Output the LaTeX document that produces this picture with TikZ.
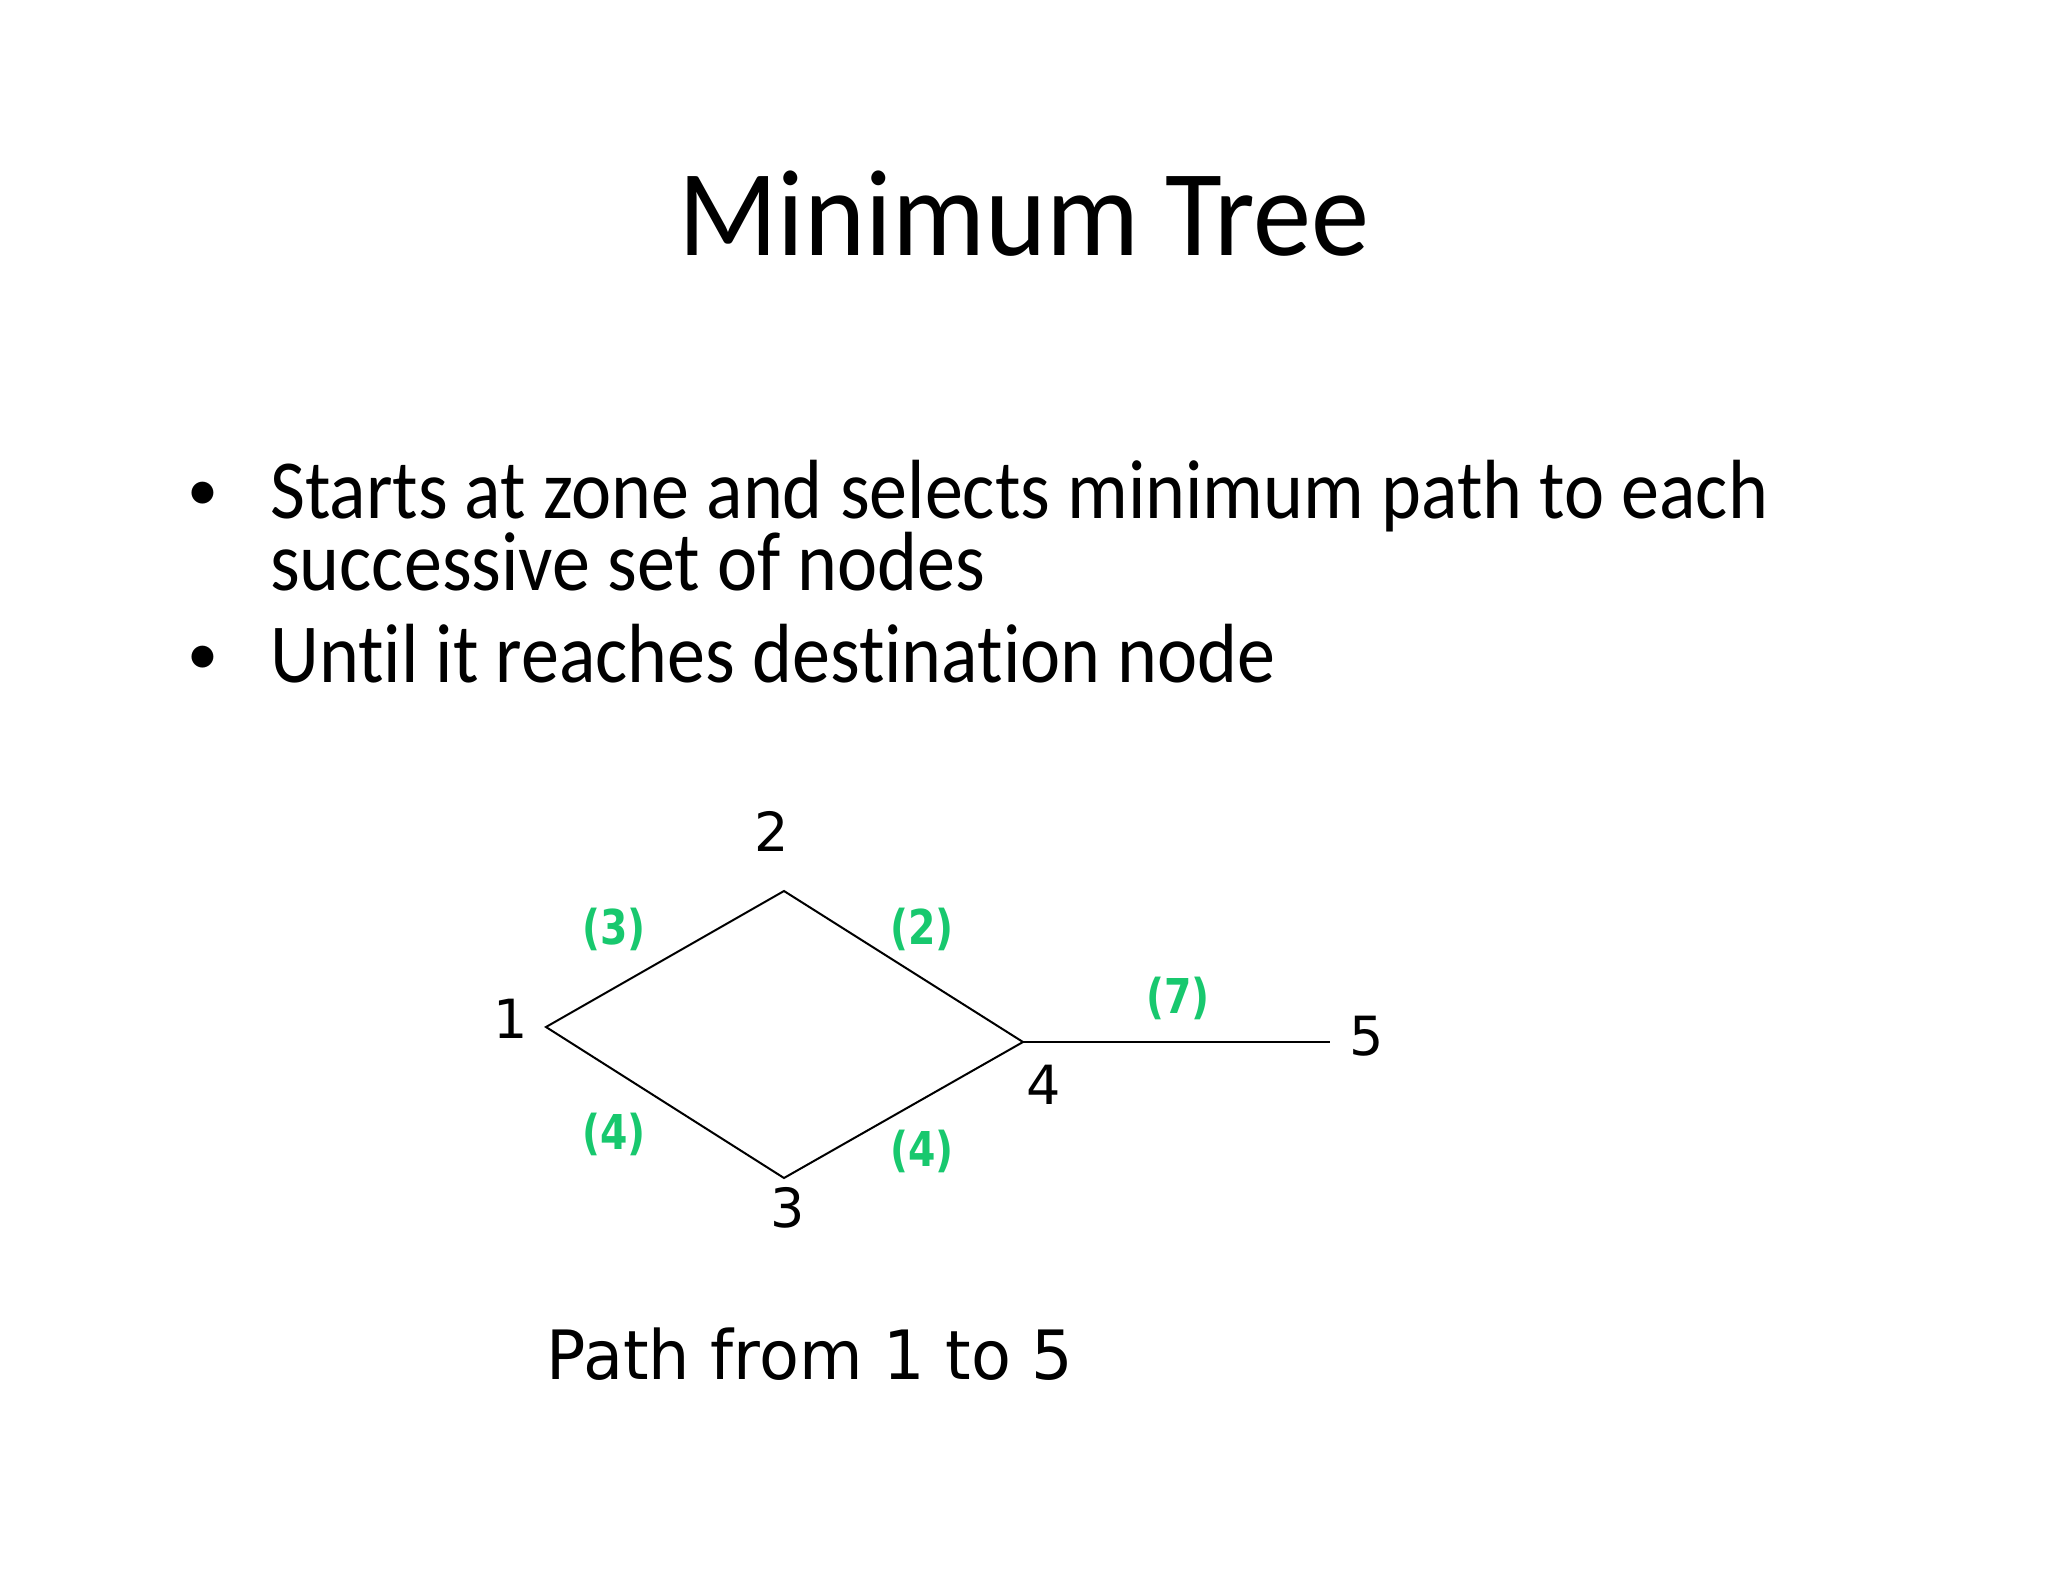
\documentclass[tikz,border=0pt]{standalone}
\usepackage{fontspec}
\setmainfont{Carlito}[Ligatures=NoCommon]
\newfontfamily\graphfont{DejaVu Sans}
\definecolor{wgreen}{RGB}{24,200,110}
\begin{document}
\begin{tikzpicture}[x=1pt,y=-1pt,
  titletext/.style={anchor=base,inner sep=0pt,font=\fontsize{123}{140}\selectfont},
  bullettext/.style={anchor=base west,inner sep=0pt,font=\fontsize{84}{100}\selectfont},
  bulletdot/.style={anchor=base,inner sep=0pt,font=\fontsize{62}{70}\selectfont},
  vlabel/.style={inner sep=0pt,font=\graphfont\fontsize{54}{60}\selectfont},
  wlabel/.style={inner sep=0pt,text=wgreen,font=\graphfont\bfseries\fontsize{48}{56}\selectfont},
  edge/.style={draw=black,line width=2pt},
  captext/.style={inner sep=0pt,font=\graphfont\fontsize{68}{80}\selectfont}]
\useasboundingbox[fill=white] (0,0) rectangle (2048,1582);
\node[titletext] (title) at (1024,255) {\scalebox{0.946}[1]{Minimum Tree}};
\node[bulletdot] (b1) at (203,510) {•};
\node[bullettext] (t1) at (270,518) {\scalebox{0.905}[1]{Starts at zone and selects minimum path to each}};
\node[bullettext] (t1b) at (270,590) {\scalebox{0.905}[1]{successive set of nodes}};
\node[bulletdot] (b2) at (203,674) {•};
\node[bullettext] (t2) at (270,682) {\scalebox{0.905}[1]{Until it reaches destination node}};
\coordinate (v1) at (546,1027);
\coordinate (v2) at (784,891);
\coordinate (v3) at (784,1178);
\coordinate (v4) at (1023,1042);
\coordinate (v5) at (1330,1042);
\draw[edge] (v1) -- (v2) -- (v4) -- (v3) -- cycle;
\draw[edge] (v4) -- (v5);
\node[vlabel] (l1) at (511,1019) {1};
\node[vlabel] (l2) at (772,831) {2};
\node[vlabel] (l3) at (788,1208) {3};
\node[vlabel] (l4) at (1044,1085) {4};
\node[vlabel] (l5) at (1367,1036) {5};
\node[wlabel] (w12) at (614,929) {\scalebox{0.82}[1]{(3)}};
\node[wlabel] (w24) at (922,929) {\scalebox{0.82}[1]{(2)}};
\node[wlabel] (w45) at (1178,998) {\scalebox{0.82}[1]{(7)}};
\node[wlabel] (w13) at (614,1134) {\scalebox{0.82}[1]{(4)}};
\node[wlabel] (w34) at (922,1151) {\scalebox{0.82}[1]{(4)}};
\node[captext] (cap) at (810,1354) {\scalebox{0.96}[1]{Path from 1 to 5}};
\end{tikzpicture}
\end{document}
